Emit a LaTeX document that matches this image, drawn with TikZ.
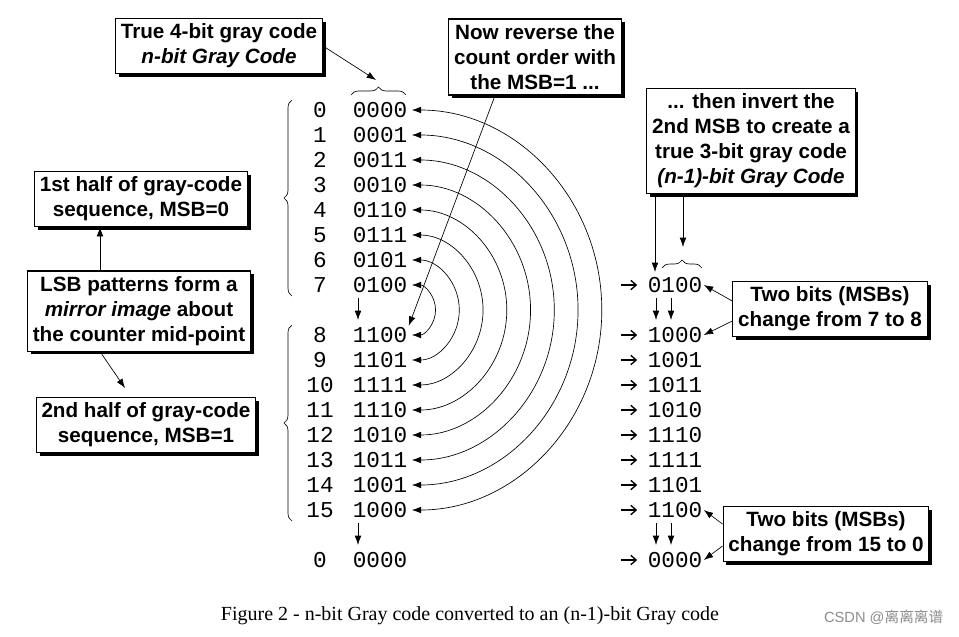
\documentclass[tikz,border=0pt]{standalone}
\usepackage{fontspec}
\setmainfont{Liberation Sans}
\newfontfamily\codefont{Liberation Mono}
\newfontfamily\capfont{Liberation Serif}
\newfontfamily\cjk{Noto Sans CJK SC}
\usetikzlibrary{shadows,decorations.pathreplacing,arrows.meta,calc}
\begin{document}
\begin{tikzpicture}[x=0.75pt,y=-0.75pt,
  box/.style={draw,fill=white,line width=0.8pt,align=center,font=\bfseries\fontsize{15.5}{18.8}\selectfont,inner sep=4pt,
    drop shadow={shadow xshift=2.5pt,shadow yshift=-2.5pt,opacity=1,fill=black}},
  code/.style={font=\codefont\fontsize{17}{18}\selectfont,inner sep=1pt},
  arr/.style={-{Latex[length=7pt,width=5pt]},line width=0.5pt},
  brc/.style={decorate,decoration={brace,amplitude=6pt},line width=0.5pt},
  rarr/.style={-{Straight Barb[length=4pt,width=7pt]},line width=1pt}]
\useasboundingbox (0,0) rectangle (959,636);
% rows
\foreach \i/\c [count=\k from 0] in {0/0000,1/0001,2/0011,3/0010,4/0110,5/0111,6/0101,7/0100}{
  \node[code] (n\i) at (320,{110+25*\k}) {\i};
  \node[code] (c\i) at (380,{110+25*\k}) {\c};
}
\foreach \i/\c [count=\k from 0] in {8/1100,9/1101,10/1111,11/1110,12/1010,13/1011,14/1001,15/1000}{
  \node[code] (n\i) at (320,{335+25*\k}) {\i};
  \node[code] (c\i) at (380,{335+25*\k}) {\c};
}
\node[code] (n16) at (320,560) {0};
\node[code] (c16) at (380,560) {0000};
% right column
\foreach \j/\c [count=\k from 0] in {7/0100,8/1000,9/1001,10/1011,11/1010,12/1110,13/1111,14/1101,15/1100}{
  \node[code] (r\j) at (675,{(\k==0?285:335+25*(\k-1))}) {\c};
  \draw[rarr] ($(r\j.west)+(-25,0)$) -- ($(r\j.west)+(-9,0)$);
}
\node[code] (r16) at (675,560) {0000};
\draw[rarr] ($(r16.west)+(-25,0)$) -- ($(r16.west)+(-9,0)$);
% arcs
\foreach \a/\b in {0/15,1/14,2/13,3/12,4/11,5/10,6/9,7/8}{
  \draw[{Latex[length=7pt,width=5pt]}-{Latex[length=7pt,width=5pt]},line width=0.5pt]
    let \p1=($(c\b.east)-(c\a.east)$) in
    ($(c\a.east)+(3,0)$) arc[start angle=90,end angle=-90,x radius={0.5*abs(\y1)*0.95},y radius={0.5*abs(\y1)}];
}
% braces
\draw[brc] (292,296) -- (292,100);
\draw[brc] (292,521) -- (292,325);
\draw[brc] (351,95) -- (406,95);
\draw[brc] (662,268) -- (702,268);
% small down arrows
\draw[arr] (358,298) -- (358,320);
\draw[arr] (358,523) -- (358,545);
\draw[arr] (656,298) -- (656,320);
\draw[arr] (671,298) -- (671,320);
\draw[arr] (656,523) -- (656,545);
\draw[arr] (671,523) -- (671,545);
% boxes
\node[box] (b1) at (219,46) {True 4-bit gray code\\\textit{n-bit Gray Code}};
\node[box] (b2) at (535,57) {Now reverse the\\count order with\\the MSB=1 ...};
\node[box] (b3) at (751,141) {... then invert the\\2nd MSB to create a\\true 3-bit gray code\\\textit{(n-1)-bit Gray Code}};
\node[box] (b4) at (141,199) {1st half of gray-code\\sequence, MSB=0};
\node[box] (b5) at (139,311) {LSB patterns form a\\\textit{mirror image} about\\the counter mid-point};
\node[box] (b6) at (146,425) {2nd half of gray-code\\sequence, MSB=1};
\node[box] (b7) at (830,309) {Two bits (MSBs)\\change from 7 to 8};
\node[box] (b8) at (826,534) {Two bits (MSBs)\\change from 15 to 0};
% connectors
\draw[arr] (b1.east) -- (376,80);
\draw[arr] ($(b2.south)+(-40,0)$) -- (c8.north east);
\draw[arr] (b3.south -| 655,0) -- (655,272);
\draw[arr] (b3.south -| 683,0) -- (683,247);
\draw[arr] (b5.north -| 100,0) -- (b4.south -| 100,0);
\draw[arr] (b5.south -| 100,0) -- (125,388);
\draw[arr] ($(b7.west)+(0,-8)$) -- (r7.east);
\draw[arr] ($(b7.west)+(0,12)$) -- (r8.east);
\draw[arr] ($(b8.west)+(0,-10)$) -- (r15.east);
\draw[arr] ($(b8.west)+(0,12)$) -- (r16.east);
% caption
\node[font=\capfont\fontsize{15}{17}\selectfont] (cap) at (470,616) {Figure 2 - n-bit Gray code converted to an (n-1)-bit Gray code};
\node[font=\fontsize{11}{13}\selectfont,text=black!45,anchor=east] (wm) at (948,617) {CSDN @{\cjk 离离离谱}};
\end{tikzpicture}
\end{document}
